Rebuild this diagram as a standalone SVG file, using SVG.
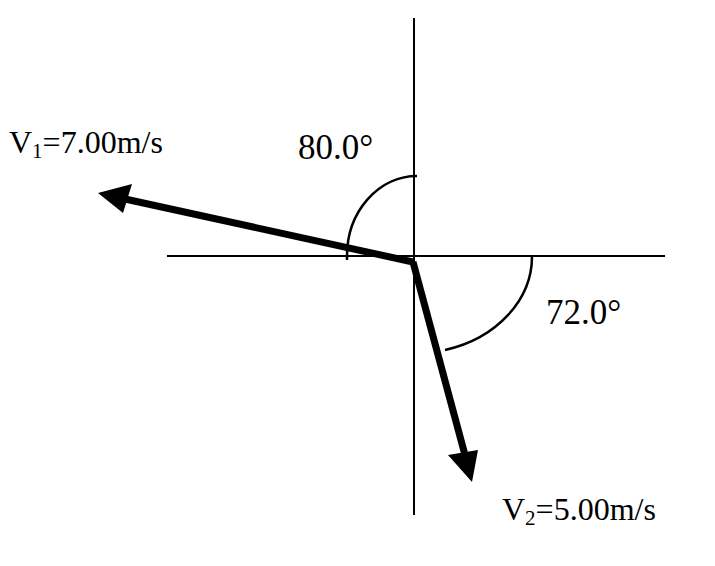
<svg xmlns="http://www.w3.org/2000/svg" width="715" height="566" viewBox="0 0 715 566">
<style>
.ax{stroke:#000;stroke-width:2;fill:none}
.arc{stroke:#000;stroke-width:2.5;fill:none}
.vec{stroke:#000;stroke-width:7;fill:none}
.lbl{font-family:"Liberation Serif","Times New Roman",serif;font-size:32px;fill:#000}
.deg{font-size:35px}
</style>
<rect width="715" height="566" fill="#fff"/>
<g id="axes">
<line class="ax" x1="414" y1="18" x2="414" y2="515"/>
<line class="ax" x1="167" y1="256" x2="665" y2="256"/>
</g>
<g id="arcs">
<path class="arc" d="M417,176 A70,80 0 0 0 347,256 L347,260"/>
<path class="arc" d="M532,256 A118,97 0 0 1 445,350"/>
</g>
<g id="connectors">
<line class="vec" x1="413" y1="262" x2="125" y2="199"/>
<polygon points="98,193 132,184 123,213" fill="#000"/>
<line class="vec" x1="413" y1="262" x2="465" y2="455"/>
<polygon points="472,482 448,455 478,450" fill="#000"/>
</g>
<g id="labels">
<text class="lbl" x="9" y="153">V<tspan font-size="21" dy="5">1</tspan><tspan dy="-5">=7.00m/s</tspan></text>
<text class="lbl deg" x="298" y="159">80.0°</text>
<text class="lbl deg" x="546" y="324">72.0°</text>
<text class="lbl" x="502" y="520">V<tspan font-size="21" dy="5">2</tspan><tspan dy="-5">=5.00m/s</tspan></text>
</g>
</svg>
